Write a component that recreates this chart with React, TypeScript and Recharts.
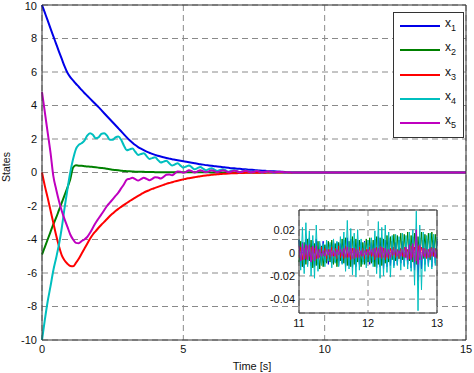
import React from 'react';
import { LineChart, Line, XAxis, YAxis, CartesianGrid, ReferenceLine } from 'recharts';

// sample times: 0.1 s steps up to 9 s, then coarse tail (states are settled)
const mainTime = [
  ...Array.from({ length: 91 }, (_, i) => +(i * 0.1).toFixed(1)),
  9.5, 10, 10.5, 11, 11.5, 12, 12.5, 13, 13.5, 14, 14.5, 15,
];

const x1 = [
  10, 9.54, 9.08, 8.6, 8.14, 7.68, 7.22, 6.78, 6.33, 5.95,
  5.7, 5.5, 5.3, 5.12, 4.93, 4.75, 4.58, 4.41, 4.24, 4.07,
  3.9, 3.72, 3.54, 3.36, 3.18, 3.0, 2.82, 2.64, 2.46, 2.28,
  2.1, 1.93, 1.78, 1.64, 1.52, 1.42, 1.33, 1.25, 1.18, 1.11,
  1.05, 1.0, 0.95, 0.91, 0.87, 0.83, 0.79, 0.76, 0.73, 0.7,
  0.67, 0.64, 0.61, 0.58, 0.55, 0.52, 0.49, 0.47, 0.44, 0.42,
  0.4, 0.38, 0.36, 0.34, 0.32, 0.3, 0.28, 0.26, 0.25, 0.23,
  0.22, 0.2, 0.19, 0.17, 0.16, 0.15, 0.13, 0.12, 0.11, 0.1,
  0.09, 0.08, 0.07, 0.06, 0.05, 0.04, 0.03, 0.02, 0.01, 0,
  0,
  0, 0, 0, 0, 0, 0, 0, 0, 0, 0, 0, 0,
];

const x2 = [
  -4.9, -4.45, -4.0, -3.55, -3.1, -2.7, -2.25, -1.8, -1.35, -0.9,
  -0.4, 0.3, 0.43, 0.41, 0.4, 0.38, 0.36, 0.35, 0.33, 0.31,
  0.29, 0.27, 0.25, 0.22, 0.2, 0.17, 0.15, 0.13, 0.11, 0.09,
  0.08, 0.07, 0.06, 0.05, 0.05, 0.04, 0.04, 0.03, 0.03, 0.03,
  0.02, 0.02, 0.02, 0.02, 0.02, 0.02, 0.02, 0.02, 0.02, 0.02,
  0.02, 0.02, 0.02, 0.01, 0.01, 0.01, 0.01, 0.01, 0.01, 0.01,
  0, 0, 0, 0, 0, 0, 0, 0, 0, 0,
  0, 0, 0, 0, 0, 0, 0, 0, 0, 0,
  0, 0, 0, 0, 0, 0, 0, 0, 0, 0,
  0,
  0, 0, 0, 0, 0, 0, 0, 0, 0, 0, 0, 0,
];

const x3 = [
  0, -0.8, -1.5, -2.25, -3.0, -3.75, -4.4, -4.95, -5.25, -5.45,
  -5.58, -5.6, -5.4, -5.15, -4.85, -4.55, -4.25, -3.95, -3.7, -3.5,
  -3.3, -3.12, -2.95, -2.78, -2.6, -2.45, -2.3, -2.17, -2.05, -1.93,
  -1.82, -1.71, -1.6, -1.5, -1.4, -1.3, -1.2, -1.12, -1.05, -0.98,
  -0.92, -0.86, -0.8, -0.74, -0.68, -0.63, -0.58, -0.53, -0.49, -0.45,
  -0.41, -0.37, -0.34, -0.31, -0.28, -0.25, -0.22, -0.2, -0.18, -0.16,
  -0.14, -0.12, -0.11, -0.09, -0.08, -0.07, -0.06, -0.05, -0.04, -0.04,
  -0.03, -0.03, -0.02, -0.02, -0.02, -0.01, -0.01, -0.01, -0.01, -0.01,
  0, 0, 0, 0, 0, 0, 0, 0, 0, 0,
  0,
  0, 0, 0, 0, 0, 0, 0, 0, 0, 0, 0, 0,
];

const x4 = [
  -10, -8.8, -7.7, -6.8, -5.85, -5.1, -4.3, -3.3, -2.1, -1.0,
  0.0, 0.8, 1.4, 1.65, 1.75, 1.9, 2.2, 2.35, 2.25, 2.05,
  2.1, 2.3, 2.35, 2.2, 1.95, 1.95, 2.1, 2.15, 1.95, 1.6,
  1.33, 1.38, 1.43, 1.24, 1.05, 1.1, 1.15, 0.98, 0.81, 0.86,
  0.91, 0.75, 0.6, 0.65, 0.7, 0.55, 0.42, 0.48, 0.55, 0.41,
  0.29, 0.36, 0.42, 0.31, 0.19, 0.26, 0.33, 0.23, 0.13, 0.2,
  0.26, 0.17, 0.09, 0.15, 0.2, 0.12, 0.04, 0.1, 0.15, 0.085,
  0.02, 0.075, 0.12, 0.065, 0.01, 0.055, 0.1, 0.045, 0.0, 0.035,
  0.07, 0.03, -0.01, 0.02, 0.05, 0.015, -0.01, 0.01, 0.02, 0,
  0,
  0, 0, 0, 0, 0, 0, 0, 0, 0, 0, 0, 0,
];

const x5 = [
  4.8, 3.6, 2.4, 1.2, -0.2, -1.0, -1.7, -2.3, -2.8, -3.25,
  -3.7, -4.0, -4.2, -4.22, -4.1, -4.0, -3.85, -3.6, -3.3, -3.0,
  -2.75, -2.5, -2.25, -2.0, -1.8, -1.6, -1.4, -1.2, -0.95, -0.7,
  -0.42, -0.38, -0.32, -0.4, -0.48, -0.4, -0.32, -0.38, -0.46, -0.38,
  -0.28, -0.3, -0.36, -0.26, -0.14, -0.12, -0.16, -0.06, 0.06, 0.05,
  -0.02, 0.04, 0.13, 0.08, 0.0, 0.06, 0.14, 0.08, 0.01, 0.07,
  0.14, 0.08, 0.02, 0.07, 0.13, 0.08, 0.02, 0.06, 0.12, 0.07,
  0.02, 0.06, 0.11, 0.06, 0.01, 0.05, 0.09, 0.05, 0.01, 0.04,
  0.07, 0.04, 0.0, 0.03, 0.05, 0.03, 0.0, 0.02, 0.01, 0,
  0,
  0, 0, 0, 0, 0, 0, 0, 0, 0, 0, 0, 0,
];

// zoomed window 11..13 s, 0.025 s steps
const insetTime = Array.from({ length: 81 }, (_, i) => +(11 + i * 0.025).toFixed(3));

const insetX1 = [
  0.011, -0.012, 0.009, -0.013, 0.012, -0.01, 0.013, -0.011, 0.01, -0.012,
  0.012, -0.01, 0.008, -0.009, 0.01, -0.008, 0.009, -0.01, 0.007, -0.009,
  0.01, -0.008, 0.009, -0.011, 0.008, -0.009, 0.011, -0.012, 0.013, -0.011,
  0.012, -0.013, 0.01, -0.012, 0.011, -0.01, 0.009, -0.008, 0.01, -0.009,
  0.008, -0.01, 0.009, -0.008, 0.012, -0.013, 0.014, -0.012, 0.013, -0.014,
  0.011, -0.012, 0.013, -0.011, 0.01, -0.011, 0.009, -0.01, 0.011, -0.009,
  0.01, -0.011, 0.009, -0.01, 0.012, -0.013, 0.014, -0.015, 0.02, -0.024,
  0.013, -0.014, 0.011, -0.01, 0.012, -0.011, 0.01, -0.012, 0.011, -0.009,
  0.01,
];

const insetX2 = [
  -0.008, 0.01, -0.012, 0.009, -0.01, 0.012, -0.007, 0.011, -0.013, 0.008,
  -0.011, 0.01, -0.014, 0.006, -0.012, 0.007, -0.009, 0.01, -0.008, 0.011,
  -0.01, 0.008, -0.012, 0.009, -0.007, 0.012, -0.009, 0.013, -0.011, 0.01,
  -0.012, 0.014, -0.01, 0.012, -0.008, 0.011, -0.012, 0.009, -0.01, 0.012,
  -0.008, 0.013, -0.009, 0.011, -0.012, 0.014, -0.01, 0.013, -0.011, 0.012,
  -0.009, 0.015, -0.008, 0.014, -0.006, 0.016, -0.007, 0.015, -0.005, 0.017,
  -0.006, 0.016, -0.004, 0.018, -0.007, 0.015, -0.008, 0.017, -0.01, 0.014,
  -0.006, 0.018, -0.005, 0.016, -0.004, 0.017, -0.006, 0.018, -0.003, 0.016,
  -0.004,
];

const insetX3 = [
  -0.004, 0.005, -0.006, 0.004, -0.005, 0.006, -0.003, 0.005, -0.006, 0.004,
  -0.005, 0.003, -0.004, 0.005, -0.003, 0.004, -0.005, 0.003, -0.004, 0.005,
  -0.003, 0.004, -0.005, 0.006, -0.004, 0.003, -0.005, 0.006, -0.004, 0.005,
  -0.006, 0.004, -0.005, 0.003, -0.004, 0.005, -0.003, 0.004, -0.005, 0.003,
  -0.004, 0.005, -0.003, 0.004, -0.006, 0.005, -0.004, 0.006, -0.005, 0.004,
  -0.006, 0.003, -0.005, 0.004, -0.003, 0.005, -0.004, 0.003, -0.005, 0.004,
  -0.003, 0.005, -0.004, 0.003, -0.005, 0.006, -0.004, 0.005, -0.007, 0.006,
  -0.004, 0.005, -0.003, 0.004, -0.005, 0.003, -0.004, 0.005, -0.003, 0.004,
  -0.005,
];

const insetX4 = [
  0.012, -0.015, 0.022, -0.018, 0.026, -0.012, 0.019, -0.02, 0.015, -0.022,
  0.024, -0.016, 0.01, -0.011, 0.008, -0.012, 0.011, -0.007, 0.009, -0.013,
  0.012, -0.009, 0.01, -0.012, 0.014, -0.01, 0.018, -0.016, 0.028, -0.014,
  0.021, -0.019, 0.017, -0.021, 0.02, -0.015, 0.012, -0.01, 0.009, -0.013,
  0.011, -0.008, 0.013, -0.012, 0.019, -0.018, 0.027, -0.022, 0.022, -0.02,
  0.024, -0.017, 0.018, -0.021, 0.015, -0.013, 0.016, -0.011, 0.014, -0.015,
  0.017, -0.012, 0.015, -0.014, 0.018, -0.016, 0.02, -0.028, 0.036, -0.05,
  0.024, -0.032, 0.018, -0.016, 0.015, -0.012, 0.017, -0.014, 0.016, -0.011,
  0.014,
];

const insetX5 = [
  0.006, -0.007, 0.008, -0.006, 0.007, -0.006, 0.007, -0.008, 0.006, -0.007,
  0.006, -0.005, 0.003, -0.003, 0.002, -0.003, 0.003, -0.002, 0.003, -0.003,
  0.002, -0.003, 0.003, -0.002, 0.003, -0.003, 0.004, -0.004, 0.005, -0.004,
  0.004, -0.005, 0.004, -0.004, 0.003, -0.004, 0.002, -0.003, 0.002, -0.002,
  0.003, -0.002, 0.003, -0.003, 0.004, -0.004, 0.004, -0.004, 0.005, -0.004,
  0.004, -0.004, 0.003, -0.004, 0.003, -0.002, 0.003, -0.003, 0.002, -0.003,
  0.003, -0.004, 0.005, -0.006, 0.007, -0.006, 0.008, -0.008, 0.02, -0.01,
  0.007, -0.006, 0.004, -0.004, 0.003, -0.004, 0.004, -0.003, 0.004, -0.004,
  0.003,
];

const mainXTicks = [0, 5, 10, 15];
const mainYTicks = [-10, -8, -6, -4, -2, 0, 2, 4, 6, 8, 10];
const insetXTicks = [11, 12, 13];
const insetYTicks = [-0.04, -0.02, 0, 0.02];

const SERIES = [
  { key: 'x1', sub: '1', color: '#0000e8' },
  { key: 'x2', sub: '2', color: '#008000' },
  { key: 'x3', sub: '3', color: '#ff0000' },
  { key: 'x4', sub: '4', color: '#00bfbf' },
  { key: 'x5', sub: '5', color: '#bf00bf' },
];

const mainRows = mainTime.map((t, i) => ({ t, x1: x1[i], x2: x2[i], x3: x3[i], x4: x4[i], x5: x5[i] }));
const insetRows = insetTime.map((t, i) => ({
  t, x1: insetX1[i], x2: insetX2[i], x3: insetX3[i], x4: insetX4[i], x5: insetX5[i],
}));

const FONT = '"Liberation Sans", Arial, Helvetica, sans-serif';
const FRAME = '#333';
const GRID = '#8a8a8a';
const tick = { fill: '#111', fontSize: 11 };

export default function App() {
  return (
    <div style={{ position: 'absolute', left: 0, top: 0, width: 474, height: 373, background: '#fff', fontFamily: FONT }}>
      <LineChart width={474} height={373} data={mainRows} margin={{ top: 5, right: 8, bottom: 3, left: 5 }}>
        <CartesianGrid stroke={GRID} strokeDasharray="6 4" />
        <XAxis dataKey="t" type="number" domain={[0, 15]} ticks={mainXTicks} height={30}
          tickLine={false} tickSize={3} tickMargin={2} axisLine={{ stroke: FRAME }} tick={tick} />
        <YAxis type="number" domain={[-10, 10]} ticks={mainYTicks} width={37}
          tickLine={false} tickSize={3} tickMargin={2} axisLine={{ stroke: FRAME }} tick={tick} />
        {SERIES.map(s => (
          <Line key={s.key} dataKey={s.key} type="monotone" stroke={s.color} strokeWidth={2}
            dot={false} activeDot={false} isAnimationActive={false} />
        ))}
        <ReferenceLine y={10} stroke={FRAME} />
        <ReferenceLine x={15} stroke={FRAME} />
      </LineChart>

      {/* axis titles */}
      <div style={{ position: 'absolute', left: 6, top: 167, fontSize: 10.5, color: '#111',
        transform: 'translate(-50%, -50%) rotate(-90deg)', whiteSpace: 'nowrap' }}>States</div>
      <div style={{ position: 'absolute', left: 252, top: 366, fontSize: 11, color: '#111',
        transform: 'translate(-50%, -50%)', whiteSpace: 'nowrap' }}>Time [s]</div>

      {/* legend */}
      <div style={{ position: 'absolute', left: 393, top: 12, width: 69, height: 124,
        border: `1px solid ${FRAME}`, background: '#fff' }}>
        {SERIES.map((s, i) => (
          <div key={s.key} style={{ position: 'absolute', left: 6, top: 13 + i * 24.3 - 8, height: 16, width: 62 }}>
            <div style={{ position: 'absolute', left: 0, top: 7, width: 40, height: 2, background: s.color }} />
            <div style={{ position: 'absolute', left: 45, top: -2, fontSize: 12, color: '#111' }}>
              x<sub style={{ fontSize: 9, verticalAlign: -4 }}>{s.sub}</sub>
            </div>
          </div>
        ))}
      </div>

      {/* inset zoom 11..13 s */}
      <div style={{ position: 'absolute', left: 250, top: 200 }}>
        <LineChart width={200} height={140} data={insetRows} margin={{ top: 10, right: 13, bottom: 0, left: 0 }}>
          <CartesianGrid stroke={GRID} strokeDasharray="6 4" fill="#fff" fillOpacity={1} />
          <XAxis dataKey="t" type="number" domain={[11, 13]} ticks={insetXTicks} height={27}
            tickLine={false} tickSize={3} tickMargin={3} axisLine={{ stroke: FRAME }} tick={tick} />
          <YAxis type="number" domain={[-0.052, 0.037]} ticks={insetYTicks} width={49}
            tickLine={false} tickSize={2} tickMargin={2} axisLine={{ stroke: FRAME }} tick={tick} />
          {SERIES.map(s => (
            <Line key={s.key} dataKey={s.key} type="linear" stroke={s.color} strokeWidth={1}
              dot={false} activeDot={false} isAnimationActive={false} />
          ))}
          <ReferenceLine y={0.037} stroke={FRAME} />
          <ReferenceLine x={13} stroke={FRAME} />
        </LineChart>
      </div>
    </div>
  );
}
